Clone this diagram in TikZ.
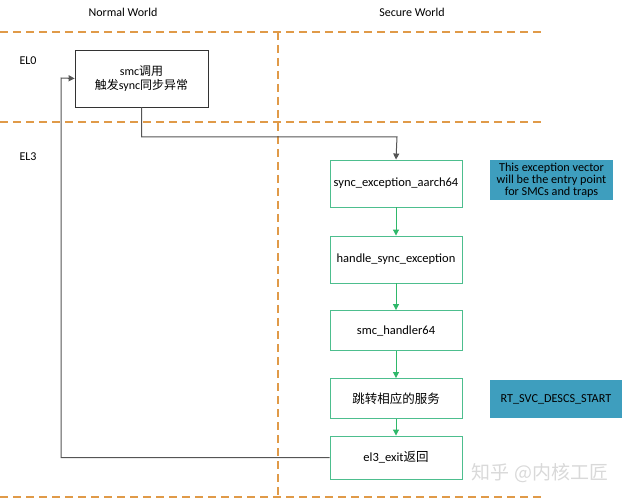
\documentclass[tikz,border=0pt]{standalone}
\usepackage{fontspec}
\setmainfont{Carlito}
\newfontfamily\cjk{Noto Sans CJK SC}
\usetikzlibrary{arrows.meta}
\definecolor{dashor}{HTML}{E09A48}
\definecolor{boxgreen}{HTML}{4DBE8E}
\definecolor{arrgreen}{HTML}{2FB86A}
\definecolor{bluebox}{HTML}{3E9EBE}
\definecolor{lineg}{HTML}{555555}
\tikzset{
  x=1pt,y=-1pt,
  lane/.style={draw=dashor,line width=1.3pt,dash pattern=on 8pt off 5pt},
  wbox/.style={draw=black!80,line width=0.8pt,fill=white,minimum width=133pt,minimum height=57pt,align=center,font=\fontsize{12}{14}\selectfont},
  gbox/.style={draw=boxgreen,line width=0.9pt,fill=white,minimum width=132pt,align=center,font=\fontsize{12.5}{14}\selectfont},
  note/.style={fill=bluebox,align=center,font=\fontsize{12.2}{12}\selectfont,inner sep=2pt},
  garr/.style={draw=arrgreen,line width=1pt,-{Triangle[length=6pt,width=6pt]}},
  karr/.style={draw=lineg,line width=1pt,-{Triangle[length=6pt,width=6pt]}},
  lbl/.style={font=\fontsize{12}{14}\selectfont}
}
\begin{document}
\begin{tikzpicture}
\useasboundingbox (0,0) rectangle (622,500);
% lanes
\coordinate (t0) at (0,32); \coordinate (t1) at (545,32);
\coordinate (m0) at (0,122); \coordinate (m1) at (545,122);
\coordinate (b0) at (0,497); \coordinate (b1) at (545,497);
\coordinate (v0) at (278,32); \coordinate (v1) at (278,500);
\draw[lane] (t0) -- (t1);
\draw[lane] (m0) -- (m1);
\draw[lane] (b0) -- (b1);
\draw[lane] (v0) -- (v1);
\node[lbl] (nw) at (123,12) {Normal World};
\node[lbl] (sw) at (412,12) {Secure World};
\node[lbl] (el0) at (28,61) {EL0};
\node[lbl] (el3) at (28,157) {EL3};
% boxes
\node[wbox] (smc) at (141.5,78.5) {smc{\cjk 调用}\\{\cjk 触发}sync{\cjk 同步异常}};
\node[gbox,minimum height=47pt] (sea) at (396,183.5) {sync\_exception\_aarch64};
\node[gbox,minimum height=47pt] (hse) at (396,259.5) {handle\_sync\_exception};
\node[gbox,minimum height=40pt] (sh) at (396,330.5) {smc\_handler64};
\node[gbox,minimum height=40pt] (jump) at (396,398.5) {\cjk 跳转相应的服务};
\node[gbox,minimum height=43pt] (exit) at (396,457.5) {el3\_exit{\cjk 返回}};
\node[note,minimum width=123pt,minimum height=40pt] (n1) at (551.5,180) {This exception vector\\will be the entry point\\for SMCs and traps};
\node[note,minimum width=132pt,minimum height=38pt] (n2) at (556,399) {RT\_SVC\_DESCS\_START};
\node[text=black!15,font=\fontsize{19}{20}\selectfont] (wm) at (540,473) {\cjk 知乎 @内核工匠};
% connectors
\draw[karr] (smc.south) |- (397,137) -- (sea.north);
\draw[garr] (sea) -- (hse);
\draw[garr] (hse) -- (sh);
\draw[garr] (sh) -- (jump);
\draw[garr] (jump) -- (exit);
\draw[karr] (exit.west) -| (61,78) -- (smc.west);
\end{tikzpicture}
\end{document}
